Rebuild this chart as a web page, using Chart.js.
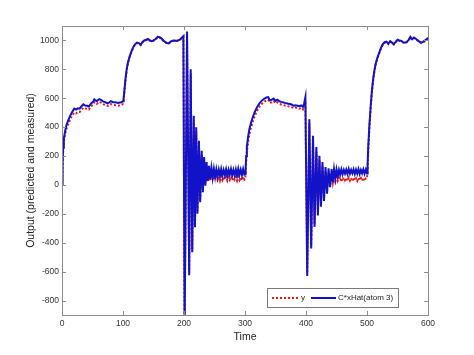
<!DOCTYPE html>
<html><head><meta charset="utf-8">
<script src="https://cdn.jsdelivr.net/npm/chart.js@4"></script>
<style>html,body{margin:0;padding:0;background:#fff}canvas{display:block}</style>
</head><body>
<canvas id="c" width="474" height="355"></canvas>
<script>
// ---- data ----
const time = [
  0,1,2,3,5,7,10,13,16,20,23,26,29,32,35,38,41,44,48,51,53,55,57,59,61,63,65,68,71,75,78,80,83,86,89,92,95,98,100,101,102,104,106,108,111,114,117,120,123,126,129,132,135,138,141,144,147,150,153,157,160,163,166,169,172,175,178,181,184,187,190,193,196,199,
  201,205,208.5,211,213.5,216,218,220,222,224.5,226.5,229,231,233,235,237,239,241,243,245,247,249,251,253,255,257,259,261,263,265,267,269,271,273,275,277,279,281,283,285,287,289,291,293,295,297,299,
  300,301,302,303,305,307,310,313,316,320,324,328,332,335,338,341,344,347,350,353,356,359,362,365,368,371,374,377,380,383,386,389,392,395,397,399,
  402,405.5,408.5,411.5,414,417,419.5,422,424.5,427,429.5,432,434.5,437,439.5,442,444,446,448,450,452,454,456,458,460,462,464,466,468,470,472,474,476,478,480,482,484,486,488,490,492,494,496,498,
  500,501,502,504,506,508,510,512,514,517,520,523,526,529,532,535,538,541,544,547,550,553,556,559,562,565,568,571,574,577,580,583,586,589,592,595,598,600
];
const measured = [
  0,140,245,300,350,385,420,450,475,500,495,505,505,520,535,530,528,522,545,555,572,566,560,568,575,572,566,557,553,547,553,560,556,553,550,548,551,555,562,585,628,720,792,840,885,922,952,972,982,980,968,987,998,1002,1007,998,993,998,1005,1022,1020,1012,998,988,980,978,990,995,998,996,998,1003,1015,1027,
  -980,1030,-605,770,-445,448,-272,370,-180,276,-100,207,-30,163,10,128,20,105,25,90,38,75,35,64,34,58,30,60,34,54,36,56,30,54,35,58,32,52,36,56,30,58,34,52,32,56,36,
  40,70,160,225,295,350,400,442,478,515,543,563,577,585,590,568,572,580,565,572,562,557,555,550,547,544,542,537,531,535,531,528,533,523,545,585,
  -610,425,-420,310,-270,232,-192,172,-130,130,-90,98,-45,85,-5,78,15,62,25,55,28,50,30,48,26,52,32,46,28,50,30,48,26,52,30,46,28,50,32,48,30,50,28,46,
  45,110,230,395,525,635,718,780,828,875,910,946,971,985,989,975,992,982,972,987,1002,997,995,985,982,987,999,1022,1005,1017,1009,999,989,982,987,997,1007,1015
];
const predicted = [
  0,150,260,320,370,410,445,475,500,528,522,530,528,545,558,550,548,543,565,575,592,585,580,588,594,590,585,576,572,565,572,580,574,572,570,567,570,574,580,600,640,730,800,845,890,926,955,975,985,982,970,990,1000,1005,1010,1000,995,1000,1008,1025,1022,1015,1000,990,982,980,992,998,1000,998,1000,1005,1018,1030,
  -1000,1062,-625,800,-465,478,-292,400,-200,306,-120,237,-50,193,-5,158,30,133,40,118,50,112,55,108,60,106,62,110,65,104,68,108,64,105,70,110,66,104,68,108,66,112,70,106,68,110,72,
  75,110,200,262,330,382,432,472,505,540,566,585,598,605,608,585,590,598,582,590,580,575,572,568,565,562,560,555,548,552,548,545,550,540,565,607,
  -630,455,-440,340,-290,262,-212,202,-150,158,-110,124,-60,115,-15,110,20,108,45,106,60,104,70,108,74,104,78,106,76,110,78,104,80,108,76,106,78,110,76,104,80,108,78,106,
  80,140,260,420,545,650,730,790,835,880,915,950,975,988,992,978,995,985,975,990,1005,1000,998,988,985,990,1002,1025,1008,1020,1012,1002,992,985,990,1000,1010,1018
];
const xTicks = [0,100,200,300,400,500,600];
const yTicks = [-800,-600,-400,-200,0,200,400,600,800,1000];
const seriesNames = ['y', 'C*xHat(atom 3)'];
const axisTitles = ['Time', 'Output (predicted and measured)'];

const FAMILY = "'Liberation Sans', Arial, Helvetica, sans-serif";
const RED = '#e41a1a', BLUE = '#1212c8';
const toPts = arr => time.map((t, i) => ({x: t, y: arr[i]}));

const frame = {
  id: 'frame',
  afterDraw(chart) {
    const {ctx, chartArea: a, scales: {x, y}} = chart;
    ctx.save();
    ctx.strokeStyle = '#8c8c8c';
    ctx.lineWidth = 1;
    ctx.strokeRect(a.left + 0.5, a.top + 0.5, a.right - a.left, a.bottom - a.top);
    ctx.beginPath();
    xTicks.forEach(v => {
      const px = Math.round(x.getPixelForValue(v)) + 0.5;
      ctx.moveTo(px, a.bottom); ctx.lineTo(px, a.bottom - 4);
      ctx.moveTo(px, a.top); ctx.lineTo(px, a.top + 4);
    });
    yTicks.forEach(v => {
      const py = Math.round(y.getPixelForValue(v)) + 0.5;
      ctx.moveTo(a.left, py); ctx.lineTo(a.left + 4, py);
      ctx.moveTo(a.right, py); ctx.lineTo(a.right - 4, py);
    });
    ctx.stroke();

    // legend box (inside the plot, bottom right)
    const bx = a.right - 161, by = a.bottom - 27, bw = 131, bh = 19;
    ctx.fillStyle = '#fff';
    ctx.fillRect(bx, by, bw, bh);
    ctx.strokeStyle = '#7a7a7a';
    ctx.strokeRect(bx + 0.5, by + 0.5, bw, bh);
    const ly = by + 10;
    ctx.lineWidth = 2;
    ctx.strokeStyle = RED; ctx.setLineDash([2, 2]);
    ctx.beginPath(); ctx.moveTo(bx + 5, ly); ctx.lineTo(bx + 31, ly); ctx.stroke();
    ctx.setLineDash([]);
    ctx.strokeStyle = BLUE;
    ctx.beginPath(); ctx.moveTo(bx + 44, ly); ctx.lineTo(bx + 69, ly); ctx.stroke();
    ctx.fillStyle = '#222';
    ctx.font = '8px ' + FAMILY;
    ctx.textBaseline = 'middle';
    ctx.textAlign = 'left';
    ctx.fillText(seriesNames[0], bx + 34, ly);
    ctx.fillText(seriesNames[1], bx + 71, ly);
    ctx.restore();
  }
};

new Chart(document.getElementById('c').getContext('2d'), {
  type: 'line',
  data: {
    datasets: [
      {label: seriesNames[1], data: toPts(predicted), borderColor: BLUE, borderWidth: 2, pointRadius: 0, tension: 0, order: 1},
      {label: seriesNames[0], data: toPts(measured), borderColor: RED, borderWidth: 2, borderDash: [2, 2], pointRadius: 0, tension: 0, order: 2}
    ]
  },
  options: {
    responsive: false,
    animation: false,
    devicePixelRatio: 1,
    layout: {padding: {left: 0, top: 26, right: 46, bottom: 0}},
    plugins: {legend: {display: false}, tooltip: {enabled: false}},
    scales: {
      x: {
        type: 'linear', min: 0, max: 600,
        afterBuildTicks: s => { s.ticks = xTicks.map(v => ({value: v})); },
        afterFit: s => { s.height = 40; },
        grid: {display: false, drawTicks: false},
        border: {display: false},
        ticks: {padding: 4, color: '#333', font: {size: 8.5, family: FAMILY}, maxRotation: 0, autoSkip: false, callback: v => String(v)},
        title: {display: true, text: axisTitles[0], color: '#222', font: {size: 10.5, family: FAMILY}, padding: {top: 0, bottom: 12}}
      },
      y: {
        type: 'linear', min: -900, max: 1100,
        afterBuildTicks: s => { s.ticks = yTicks.map(v => ({value: v})); },
        afterFit: s => { s.width = 62; },
        grid: {display: false, drawTicks: false},
        border: {display: false},
        ticks: {padding: 3, color: '#333', font: {size: 8.5, family: FAMILY}, autoSkip: false, callback: v => String(v)},
        title: {display: true, text: axisTitles[1], color: '#222', font: {size: 10.5, family: FAMILY}, padding: {top: 25, bottom: 0}}
      }
    }
  },
  plugins: [frame]
});
</script>
</body></html>
